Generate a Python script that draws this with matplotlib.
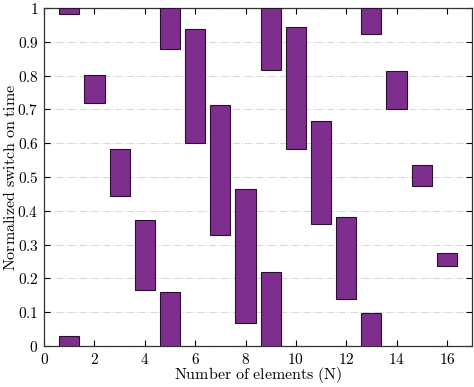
import matplotlib
matplotlib.use("Agg")
import matplotlib.pyplot as plt
from matplotlib.ticker import FuncFormatter

plt.rcParams['mathtext.fontset'] = 'cm'
plt.rcParams['font.family'] = 'serif'

# switch-on intervals per element count (some wrap around, so two segments)
elements = [1, 1, 2, 3, 4, 5, 5, 6, 7, 8, 9, 9, 10, 11, 12, 13, 13, 14, 15, 16]
t_low = [0.983, 0.0, 0.719, 0.445, 0.166, 0.880, 0.0, 0.601, 0.328, 0.067,
         0.817, 0.0, 0.583, 0.360, 0.140, 0.922, 0.0, 0.702, 0.474, 0.237]
t_high = [1.0, 0.030, 0.801, 0.583, 0.372, 1.0, 0.159, 0.939, 0.712, 0.465,
          1.0, 0.219, 0.945, 0.666, 0.383, 1.0, 0.098, 0.815, 0.537, 0.274]

fig = plt.figure(figsize=(4.74, 3.87), dpi=100)
ax = fig.add_axes([0.093, 0.106, 0.903, 0.873])

heights = [h - l for l, h in zip(t_low, t_high)]
ax.bar(elements, heights, bottom=t_low, width=0.8,
       color='#7E2F8E', edgecolor='#2a1030', linewidth=0.8, zorder=3)

ax.set_xlim(0, 17)
ax.set_ylim(0, 1)
ax.set_xticks(range(0, 17, 2))
ax.set_yticks([i / 10 for i in range(11)])

def fmt(v, pos):
    s = f'{v:g}'
    return f'${s}$'

ax.xaxis.set_major_formatter(FuncFormatter(fmt))
ax.yaxis.set_major_formatter(FuncFormatter(fmt))
ax.tick_params(direction='in', top=True, right=True, labelsize=11,
               length=4, width=0.8, pad=4)

ax.yaxis.grid(True, color='#d9d9d9', linestyle='-.', linewidth=0.8, zorder=0)
ax.set_axisbelow(True)
for sp in ax.spines.values():
    sp.set_linewidth(0.9)
    sp.set_color('#333333')

ax.set_xlabel(r'$\mathrm{Number\ of\ elements\ (N)}$', fontsize=11.5)
ax.set_ylabel(r'$\mathrm{Normalized\ switch\ on\ time}$', fontsize=11.5)
ax.xaxis.set_label_coords(0.5, -0.086)
ax.yaxis.set_label_coords(-0.079, 0.5)
ax.xaxis.label.set_va('center')
ax.yaxis.label.set_va('center')

fig.savefig('out.png', dpi=100)
